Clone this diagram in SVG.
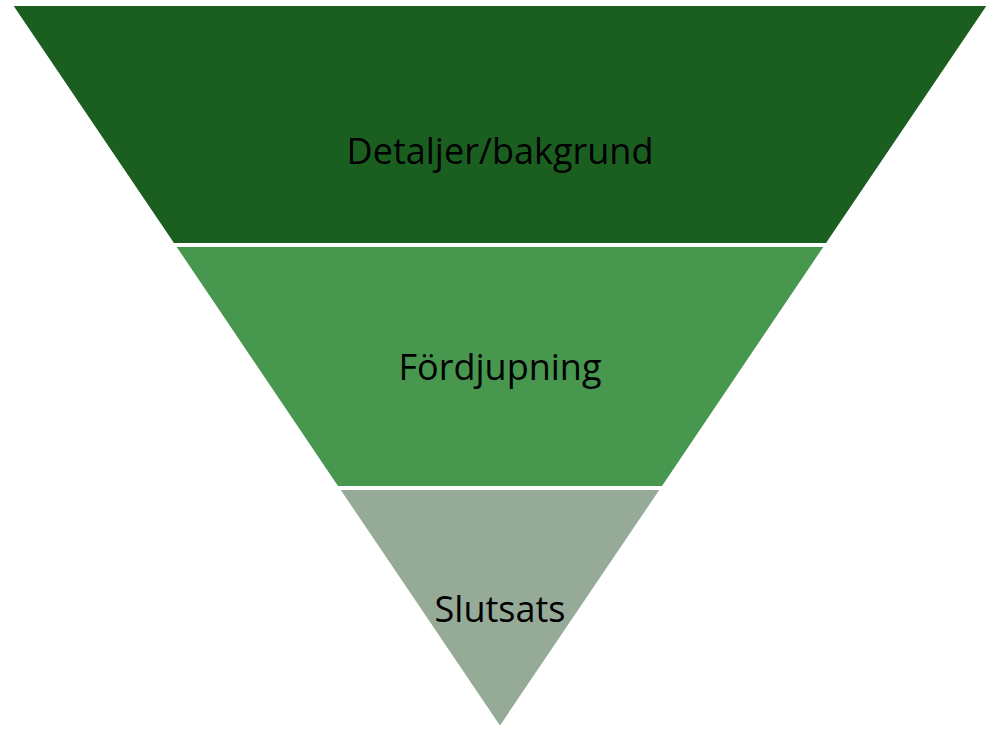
<svg xmlns="http://www.w3.org/2000/svg" width="1000" height="738" viewBox="0 0 1000 738">
<style>
.lbl{font-family:"Open Sans","Liberation Sans",sans-serif;font-size:36px;fill:#000;text-anchor:middle;dominant-baseline:central}
.band{stroke:#ffffff;stroke-width:4;stroke-linejoin:miter}
</style>
<rect width="1000" height="738" fill="#ffffff"/>
<g id="top"><polygon class="band" points="10,4 990,4 827,245 173,245" fill="#1a5e20"/><text class="lbl" x="500" y="150">Detaljer/bakgrund</text></g>
<g id="middle"><polygon class="band" points="173,245 827,245 663,488 337,488" fill="#47974f"/><text class="lbl" x="500" y="366">Fördjupning</text></g>
<g id="bottom"><polygon class="band" points="337,488 663,488 500,729" fill="#95ab97"/><text class="lbl" x="500" y="608">Slutsats</text></g>
<g id="connectors"/>
</svg>
